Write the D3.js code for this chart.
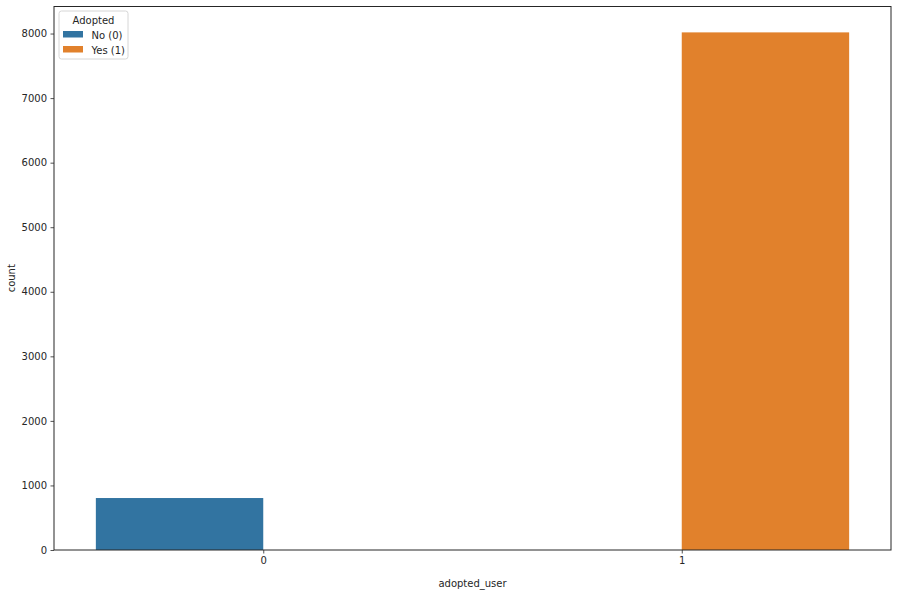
<!DOCTYPE html>
<html>
<head>
<meta charset="utf-8">
<script src="https://cdn.jsdelivr.net/npm/d3@7"></script>
<style>
  body { margin: 0; background: #fff; }
  text { font-family: "DejaVu Sans", sans-serif; fill: #262626; }
</style>
</head>
<body>
<div class="canvas"></div>
<script>
const categories = ['0', '1'];
const hues = ['No (0)', 'Yes (1)'];
const counts = [
  {category: '0', hue: 'No (0)', value: 805},
  {category: '1', hue: 'Yes (1)', value: 8018}
];
const yTicks = [0, 1000, 2000, 3000, 4000, 5000, 6000, 7000, 8000];
const colours = ['#3274a1', '#e1812c'];

const dims = {width: 897, height: 595};
const margin = {top: 6.5, right: 6, bottom: 45, left: 54};
const w = dims.width - margin.left - margin.right;
const h = dims.height - margin.top - margin.bottom;

const svg = d3.select('.canvas')
  .append('svg')
  .attr('width', dims.width)
  .attr('height', dims.height);

const graph = svg.append('g')
  .attr('transform', `translate(${margin.left}, ${margin.top})`);

// seaborn style: category band with hue offsets
const x = d3.scaleLinear().domain([-0.5, categories.length - 0.5]).range([0, w]);
const y = d3.scaleLinear().domain([0, d3.max(counts, d => d.value) * 1.05]).range([h, 0]);
const colour = d3.scaleOrdinal().domain(hues).range(colours);

const hueWidth = 0.8 / hues.length;

graph.selectAll('rect.bar')
  .data(counts)
  .enter()
  .append('rect')
  .attr('class', 'bar')
  .attr('x', d => x(categories.indexOf(d.category) - 0.4 + hues.indexOf(d.hue) * hueWidth))
  .attr('width', x(hueWidth) - x(0))
  .attr('y', d => y(d.value))
  .attr('height', d => y(0) - y(d.value))
  .attr('fill', d => colour(d.hue));

// axes
const xAxis = d3.axisBottom(x)
  .tickValues(categories.map((c, i) => i))
  .tickFormat(i => categories[i])
  .tickSize(3.5)
  .tickPadding(3.5);
const yAxis = d3.axisLeft(y)
  .tickValues(yTicks)
  .tickFormat(d3.format('d'))
  .tickSize(3.5)
  .tickPadding(3.5);

const gx = graph.append('g')
  .attr('transform', `translate(0, ${h})`)
  .call(xAxis);
const gy = graph.append('g').call(yAxis);

[gx, gy].forEach(g => {
  g.select('.domain').remove();
  g.selectAll('line').attr('stroke', '#262626').attr('stroke-width', 0.8);
  g.selectAll('text')
    .attr('font-size', 10)
    .attr('font-family', '"DejaVu Sans", sans-serif')
    .attr('fill', '#262626');
});

// frame
graph.append('rect')
  .attr('x', 0).attr('y', 0)
  .attr('width', w).attr('height', h)
  .attr('fill', 'none')
  .attr('stroke', '#262626')
  .attr('stroke-width', 1);

// axis labels
svg.append('text')
  .attr('x', margin.left + w / 2)
  .attr('y', 587)
  .attr('text-anchor', 'middle')
  .attr('font-size', 10)
  .text('adopted_user');

svg.append('text')
  .attr('transform', `translate(15, ${margin.top + h / 2}) rotate(-90)`)
  .attr('text-anchor', 'middle')
  .attr('font-size', 10)
  .text('count');

// legend
const legend = svg.append('g').attr('transform', 'translate(59, 11)');
legend.append('rect')
  .attr('width', 69).attr('height', 48)
  .attr('rx', 2.5)
  .attr('fill', '#fff').attr('fill-opacity', 0.8)
  .attr('stroke', '#cccccc').attr('stroke-width', 0.8);
legend.append('text')
  .attr('x', 34.5).attr('y', 12.5)
  .attr('text-anchor', 'middle')
  .attr('font-size', 10)
  .text('Adopted');

const items = legend.selectAll('g.item')
  .data(hues)
  .enter()
  .append('g')
  .attr('class', 'item')
  .attr('transform', (d, i) => `translate(4, ${20 + i * 15})`);
items.append('rect')
  .attr('width', 20).attr('height', 6.5)
  .attr('fill', d => colour(d));
items.append('text')
  .attr('x', 28.5).attr('y', 7.5)
  .attr('font-size', 10)
  .text(d => d);
</script>
</body>
</html>
